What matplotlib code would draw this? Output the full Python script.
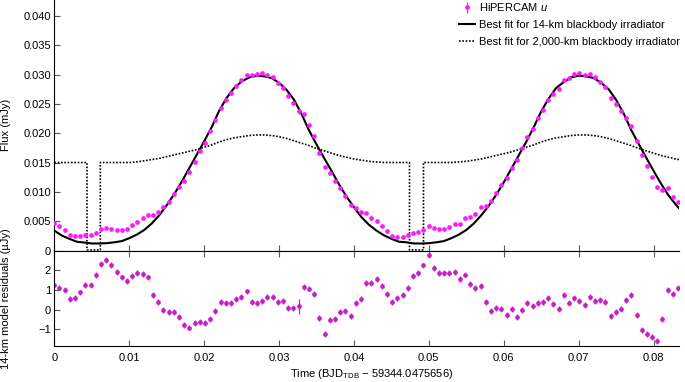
import numpy as np
import matplotlib.pyplot as plt
from matplotlib.ticker import FuncFormatter

plt.rcParams['font.family'] = ['Liberation Sans', 'DejaVu Sans']
plt.rcParams['mathtext.fontset'] = 'custom'
plt.rcParams['mathtext.rm'] = 'Liberation Sans'
plt.rcParams['mathtext.it'] = 'Liberation Sans:italic'
plt.rcParams['font.size'] = 8

# HiPERCAM u-band light curve (time in days from BJD_TDB 59344.0475656)
time = [0.00000, 0.00069, 0.00139, 0.00208, 0.00278, 0.00347, 0.00416, 0.00486, 0.00555, 0.00625,
        0.00694, 0.00763, 0.00833, 0.00902, 0.00972, 0.01041, 0.01110, 0.01180, 0.01249, 0.01319,
        0.01388, 0.01457, 0.01527, 0.01596, 0.01666, 0.01735, 0.01804, 0.01874, 0.01943, 0.02013,
        0.02082, 0.02151, 0.02221, 0.02290, 0.02360, 0.02429, 0.02498, 0.02568, 0.02637, 0.02707,
        0.02776, 0.02845, 0.02915, 0.02984, 0.03054, 0.03123, 0.03192, 0.03262, 0.03331, 0.03401,
        0.03470, 0.03539, 0.03609, 0.03678, 0.03748, 0.03817, 0.03886, 0.03956, 0.04025, 0.04095,
        0.04164, 0.04233, 0.04303, 0.04372, 0.04442, 0.04511, 0.04580, 0.04650, 0.04719, 0.04789,
        0.04858, 0.04927, 0.04997, 0.05066, 0.05136, 0.05205, 0.05274, 0.05344, 0.05413, 0.05483,
        0.05552, 0.05621, 0.05691, 0.05760, 0.05830, 0.05899, 0.05968, 0.06038, 0.06107, 0.06177,
        0.06246, 0.06315, 0.06385, 0.06454, 0.06524, 0.06593, 0.06662, 0.06732, 0.06801, 0.06871,
        0.06940, 0.07009, 0.07079, 0.07148, 0.07218, 0.07287, 0.07356, 0.07426, 0.07495, 0.07565,
        0.07634, 0.07703, 0.07773, 0.07842, 0.07912, 0.07981, 0.08050, 0.08120, 0.08189, 0.08259,
        0.08328]

flux = [0.0047, 0.0041, 0.0035, 0.0026, 0.0024, 0.0024, 0.0027, 0.0026, 0.0030, 0.0036,
        0.0038, 0.0037, 0.0035, 0.0035, 0.0037, 0.0043, 0.0049, 0.0056, 0.0060, 0.0060,
        0.0066, 0.0074, 0.0083, 0.0097, 0.0108, 0.0119, 0.0133, 0.0151, 0.0170, 0.0184,
        0.0203, 0.0223, 0.0243, 0.0256, 0.0268, 0.0280, 0.0290, 0.0300, 0.0300, 0.0301,
        0.0302, 0.0300, 0.0296, 0.0286, 0.0277, 0.0264, 0.0251, 0.0237, 0.0232, 0.0214,
        0.0195, 0.0166, 0.0142, 0.0132, 0.0118, 0.0107, 0.0093, 0.0078, 0.0072, 0.0065,
        0.0064, 0.0056, 0.0050, 0.0042, 0.0033, 0.0025, 0.0023, 0.0023, 0.0026, 0.0030,
        0.0032, 0.0035, 0.0041, 0.0038, 0.0037, 0.0037, 0.0040, 0.0045, 0.0046, 0.0055,
        0.0057, 0.0063, 0.0074, 0.0076, 0.0084, 0.0098, 0.0112, 0.0123, 0.0141, 0.0154,
        0.0174, 0.0193, 0.0207, 0.0226, 0.0240, 0.0256, 0.0266, 0.0275, 0.0291, 0.0294,
        0.0301, 0.0302, 0.0300, 0.0301, 0.0295, 0.0287, 0.0278, 0.0260, 0.0249, 0.0238,
        0.0226, 0.0213, 0.0187, 0.0163, 0.0144, 0.0126, 0.0108, 0.0104, 0.0107, 0.0092,
        0.0083]

# residuals from the 14-km model, in uJy
resid = [1.24, 1.12, 0.99, 0.52, 0.60, 0.87, 1.25, 1.24, 1.74, 2.33,
         2.50, 2.26, 1.91, 1.63, 1.44, 1.71, 1.84, 1.83, 1.63, 0.73,
         0.38, -0.02, -0.14, -0.10, -0.37, -0.77, -0.91, -0.69, -0.61, -0.69,
         -0.47, -0.09, 0.37, 0.35, 0.33, 0.55, 0.62, 0.92, 0.40, 0.32,
         0.45, 0.62, 0.62, 0.38, 0.43, 0.10, 0.10, 0.17, 1.17, 1.07,
         0.78, -0.42, -1.23, -0.54, -0.46, -0.11, -0.09, -0.32, 0.35, 0.55,
         1.37, 1.37, 1.54, 1.20, 0.78, 0.38, 0.57, 0.75, 1.10, 1.69,
         1.88, 2.24, 2.75, 2.13, 1.86, 1.88, 1.88, 1.89, 1.56, 1.78,
         1.31, 1.10, 1.20, 0.38, -0.07, 0.10, 0.05, -0.27, 0.03, -0.36,
         -0.02, 0.35, 0.18, 0.33, 0.37, 0.57, 0.28, 0.05, 0.72, 0.35,
         0.58, 0.43, 0.22, 0.62, 0.42, 0.47, 0.38, -0.32, -0.14, 0.05,
         0.48, 0.72, -0.27, -1.04, -1.24, -1.41, -1.61, -0.49, 0.99, 0.80,
         1.10]

resid_err = [0.15, 0.15, 0.15, 0.15, 0.15, 0.15, 0.15, 0.15, 0.15, 0.15,
             0.15, 0.15, 0.15, 0.15, 0.15, 0.15, 0.15, 0.15, 0.15, 0.15,
             0.15, 0.15, 0.15, 0.15, 0.15, 0.15, 0.15, 0.15, 0.15, 0.15,
             0.15, 0.15, 0.15, 0.15, 0.15, 0.15, 0.15, 0.15, 0.15, 0.15,
             0.15, 0.15, 0.15, 0.15, 0.15, 0.15, 0.15, 0.38, 0.15, 0.15,
             0.15, 0.15, 0.15, 0.15, 0.15, 0.15, 0.15, 0.15, 0.15, 0.15,
             0.15, 0.15, 0.15, 0.15, 0.15, 0.15, 0.15, 0.15, 0.15, 0.15,
             0.15, 0.15, 0.15, 0.15, 0.15, 0.15, 0.15, 0.15, 0.15, 0.15,
             0.15, 0.15, 0.15, 0.15, 0.15, 0.15, 0.15, 0.15, 0.15, 0.15,
             0.15, 0.15, 0.15, 0.15, 0.15, 0.15, 0.15, 0.15, 0.15, 0.15,
             0.15, 0.15, 0.15, 0.15, 0.15, 0.15, 0.15, 0.15, 0.15, 0.15,
             0.15, 0.15, 0.15, 0.15, 0.15, 0.15, 0.15, 0.15, 0.15, 0.15,
             0.15]

# best-fit models
model_t = [0.000, 0.001, 0.002, 0.003, 0.004, 0.005, 0.006, 0.007, 0.008, 0.009,
           0.010, 0.011, 0.012, 0.013, 0.014, 0.015, 0.016, 0.017, 0.018, 0.019,
           0.020, 0.021, 0.022, 0.023, 0.024, 0.025, 0.026, 0.027, 0.028, 0.029,
           0.030, 0.031, 0.032, 0.033, 0.034, 0.035, 0.036, 0.037, 0.038, 0.039,
           0.040, 0.041, 0.042, 0.043, 0.044, 0.045, 0.046, 0.047, 0.048, 0.049,
           0.050, 0.051, 0.052, 0.053, 0.054, 0.055, 0.056, 0.057, 0.058, 0.059,
           0.060, 0.061, 0.062, 0.063, 0.064, 0.065, 0.066, 0.067, 0.068, 0.069,
           0.070, 0.071, 0.072, 0.073, 0.074, 0.075, 0.076, 0.077, 0.078, 0.079,
           0.080, 0.081, 0.082, 0.083, 0.0834]
model_14km = [0.0034, 0.00255, 0.0020, 0.0015, 0.00136, 0.0012, 0.0012, 0.00125, 0.0014, 0.0016,
              0.0021, 0.0027, 0.0035, 0.0046, 0.0060, 0.0077, 0.0096, 0.0117, 0.0140, 0.0163,
              0.0186, 0.0210, 0.0238, 0.0260, 0.0277, 0.0288, 0.0295, 0.0298, 0.0297, 0.0294,
              0.0286, 0.0274, 0.0257, 0.0233, 0.0205, 0.0181, 0.0158, 0.0136, 0.0113, 0.0092,
              0.0074, 0.0057, 0.0044, 0.0034, 0.0026, 0.0020, 0.0015, 0.0014, 0.0012, 0.0012,
              0.00125, 0.0014, 0.0016, 0.0021, 0.0027, 0.0035, 0.0046, 0.0060, 0.0076, 0.0095,
              0.0116, 0.0139, 0.0162, 0.0185, 0.0210, 0.0237, 0.0259, 0.0277, 0.0287, 0.0295,
              0.0298, 0.0297, 0.0294, 0.0286, 0.0275, 0.0257, 0.0234, 0.0206, 0.0182, 0.0159,
              0.0136, 0.0114, 0.0094, 0.0078, 0.0072]

model2_t = [0.0000, 0.00436, 0.00436, 0.00614, 0.00614, 0.008, 0.010, 0.011, 0.012, 0.013,
            0.014, 0.015, 0.016, 0.017, 0.018, 0.019, 0.020, 0.021, 0.022, 0.023,
            0.024, 0.025, 0.026, 0.027, 0.028, 0.029, 0.030, 0.031, 0.032, 0.033,
            0.034, 0.035, 0.036, 0.037, 0.038, 0.039, 0.040, 0.041, 0.042, 0.043,
            0.044, 0.04742, 0.04742, 0.04929, 0.04929, 0.051, 0.053, 0.054, 0.055, 0.056,
            0.057, 0.058, 0.059, 0.060, 0.061, 0.062, 0.063, 0.064, 0.065, 0.066,
            0.067, 0.068, 0.069, 0.070, 0.071, 0.072, 0.073, 0.074, 0.075, 0.076,
            0.077, 0.078, 0.079, 0.080, 0.081, 0.082, 0.083, 0.0834]
model_2000km = [0.0150, 0.0150, 0.0001, 0.0001, 0.0150, 0.0150, 0.0150, 0.0151, 0.0153, 0.0155,
                0.0157, 0.0160, 0.0163, 0.0166, 0.0169, 0.0172, 0.0176, 0.0180, 0.0185, 0.0189,
                0.0192, 0.0194, 0.0196, 0.0197, 0.0197, 0.0196, 0.0194, 0.0191, 0.0187, 0.0183,
                0.0179, 0.0174, 0.0170, 0.0166, 0.0162, 0.0159, 0.0156, 0.0154, 0.0152, 0.0151,
                0.0150, 0.0150, 0.0001, 0.0001, 0.0150, 0.0150, 0.0150, 0.0151, 0.0152, 0.0154,
                0.0156, 0.0159, 0.0162, 0.0165, 0.0168, 0.0172, 0.0176, 0.0180, 0.0185, 0.0189,
                0.0192, 0.0194, 0.0196, 0.0197, 0.0197, 0.0196, 0.0194, 0.0191, 0.0187, 0.0183,
                0.0179, 0.0174, 0.0170, 0.0166, 0.0162, 0.0159, 0.0156, 0.0155]

flux_ticks = [0, 0.005, 0.010, 0.015, 0.020, 0.025, 0.030, 0.035, 0.040]
resid_ticks = [-1, 0, 1, 2]
time_ticks = [0, 0.01, 0.02, 0.03, 0.04, 0.05, 0.06, 0.07, 0.08]

flux_err = np.array(resid_err) / 1000.0

top_col = '#ff1aff'
bot_col = '#c81ec8'
tick_col = '0.35'

fig = plt.figure(figsize=(6.85, 3.82), dpi=100)
ax1 = fig.add_axes([0.0793, 0.3442, 0.9119, 0.6558])
ax2 = fig.add_axes([0.0793, 0.0942, 0.9119, 0.25])

h_data = ax1.errorbar(time, flux, yerr=flux_err, fmt='o', ms=3.4, mew=0, color=top_col,
                      ecolor=top_col, elinewidth=0.9, capsize=1.2, zorder=3)
h_14, = ax1.plot(model_t, model_14km, color='k', lw=1.5, zorder=2)
h_2000, = ax1.plot(model2_t, model_2000km, color='k', lw=1.2, ls=(0, (1, 1)), zorder=2)

ax1.legend([h_data, h_14, h_2000],
           ['HiPERCAM $u$', 'Best fit for 14-km blackbody irradiator',
            'Best fit for 2,000-km blackbody irradiator'],
           loc='upper right', bbox_to_anchor=(1.003, 1.0), frameon=False, fontsize=8,
           handlelength=1.4, handletextpad=0.35, labelspacing=0.62, borderaxespad=0.0,
           borderpad=0.1)

ax1.set_xlim(0, 0.0834)
ax1.set_ylim(0, 0.0427)
ax1.set_yticks(flux_ticks)
ax1.yaxis.set_major_formatter(FuncFormatter(lambda v, p: '0' if v == 0 else '%.3f' % v))
ax1.set_xticks(time_ticks)
ax1.tick_params(direction='in', length=4, width=0.8, color=tick_col, pad=2.5, labelbottom=False)
ax1.spines['top'].set_visible(False)
ax1.spines['right'].set_visible(False)
ax1.set_ylabel('Flux (mJy)')
ax1.yaxis.set_label_coords(-0.069, 0.5)

ax2.errorbar(time, resid, yerr=resid_err, fmt='o', ms=3.4, mew=0, color=bot_col,
             ecolor=bot_col, elinewidth=0.9, capsize=0)
ax2.set_xlim(0, 0.0834)
ax2.set_ylim(-1.85, 3.0)
ax2.set_yticks(resid_ticks)
ax2.set_xticks(time_ticks)
ax2.xaxis.set_major_formatter(FuncFormatter(lambda v, p: '%g' % v))
ax2.tick_params(direction='in', length=4, width=0.8, color=tick_col, pad=2.5, top=True)
ax2.tick_params(axis='x', pad=5)
ax2.spines['right'].set_visible(False)
ax2.set_ylabel('14-km model residuals (µJy)')
ax2.yaxis.set_label_coords(-0.069, 0.5)
ax2.set_xlabel('Time (BJD$_{\\mathrm{TDB}}$ − 59344.0475656)')
ax2.xaxis.set_label_coords(0.508, -0.22)

for ax in (ax1, ax2):
    for s in ax.spines.values():
        s.set_linewidth(0.8)

fig.savefig('out.png', dpi=100)
